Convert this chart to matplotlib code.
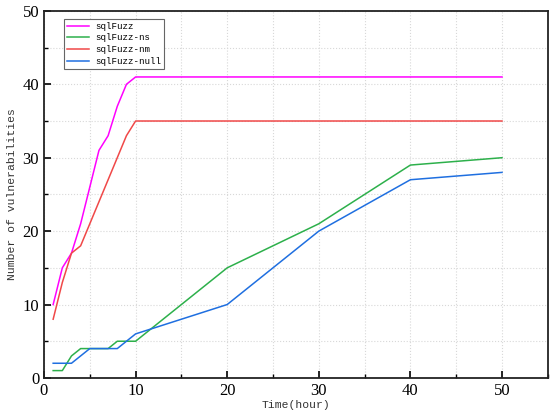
import matplotlib
matplotlib.use("Agg")
import matplotlib.pyplot as plt
from matplotlib.ticker import MultipleLocator

# hours
hours = [1, 2, 3, 4, 5, 6, 7, 8, 9, 10, 20, 30, 40, 50]

sqlfuzz = [10, 15, 17, 21, 26, 31, 33, 37, 40, 41, 41, 41, 41, 41]
sqlfuzz_ns = [1, 1, 3, 4, 4, 4, 4, 5, 5, 5, 15, 21, 29, 30]
sqlfuzz_nm = [8, 13, 17, 18, 21, 24, 27, 30, 33, 35, 35, 35, 35, 35]
sqlfuzz_null = [2, 2, 2, 3, 4, 4, 4, 4, 5, 6, 10, 20, 27, 28]

names = ["sqlFuzz", "sqlFuzz-ns", "sqlFuzz-nm", "sqlFuzz-null"]
colors = ["#ff00ff", "#2db04b", "#f04848", "#1f6fe0"]

fig = plt.figure(figsize=(5.5, 4.19), dpi=100)
ax = fig.add_axes([0.08, 0.098, 0.916, 0.876])

for ys, name, c in zip([sqlfuzz, sqlfuzz_ns, sqlfuzz_nm, sqlfuzz_null], names, colors):
    ax.plot(hours, ys, color=c, lw=1.1, label=name)

ax.set_xlim(0, 55)
ax.set_ylim(0, 50)
ax.xaxis.set_major_locator(MultipleLocator(10))
ax.xaxis.set_minor_locator(MultipleLocator(5))
ax.yaxis.set_major_locator(MultipleLocator(10))
ax.yaxis.set_minor_locator(MultipleLocator(5))
ax.grid(True, which="both", color="#d8d8d8", ls=":", lw=0.8)
ax.tick_params(which="major", direction="in", length=5, width=1.2)
ax.tick_params(which="minor", direction="in", length=3, width=1.0)
for lab in ax.get_xticklabels() + ax.get_yticklabels():
    lab.set_family("Liberation Serif")
    lab.set_fontsize(12)
for s in ax.spines.values():
    s.set_linewidth(1.3)
    s.set_color("#222222")

mono = "Liberation Mono"
ax.set_xlabel("Time(hour)", family=mono, fontsize=8.2, labelpad=1, color="#333333")
ax.set_ylabel("Number of vulnerabilities", family=mono, fontsize=8.2, labelpad=4, color="#333333")

leg = ax.legend(loc="upper left", bbox_to_anchor=(0.04, 0.978), borderaxespad=0,
                prop={"family": mono, "size": 6.6},
                frameon=True, fancybox=False, framealpha=1, edgecolor="#666666",
                handlelength=2.4, borderpad=0.3, labelspacing=0.3, handletextpad=0.65)
leg.get_frame().set_linewidth(0.8)

fig.savefig("out.png", dpi=100)
